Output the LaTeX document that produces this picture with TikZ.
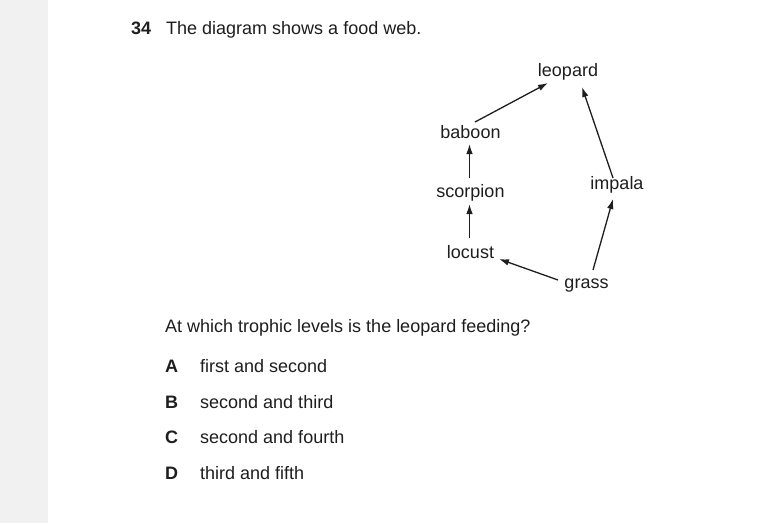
\documentclass[tikz,border=0pt]{standalone}
\usepackage{fontspec}
\setmainfont{Liberation Sans}
\usetikzlibrary{calc,arrows.meta}
\definecolor{ink}{HTML}{1E1E1E}
\definecolor{strip}{HTML}{F1F1F1}
\tikzset{
  txt/.style={anchor=base west,inner sep=0pt,text=ink,font=\fontsize{18}{20}\selectfont},
  bold/.style={txt,font=\fontsize{18}{20}\selectfont\bfseries},
  org/.style={anchor=base,inner sep=0pt,text=ink,font=\fontsize{18}{20}\selectfont},
  arr/.style={draw=ink,line width=1.3pt,-{Latex[length=10pt,width=6.5pt]}}
}
\begin{document}
\begin{tikzpicture}[x=1pt,y=-1pt]
\useasboundingbox (0,0) rectangle (763,523);
\fill[white] (0,0) rectangle (763,523);
\fill[strip] (0,0) rectangle (48,523);
% heading
\node[bold] (num) at (131,34) {34};
\node[txt] (head) at (166,34) {The diagram shows a food web.};
% food web
\node[org] (leopard) at (568,76) {leopard};
\node[org] (baboon) at (470.5,138) {baboon};
\node[org] (scorpion) at (470.5,197) {scorpion};
\node[org] (locust) at (470.5,258) {locust};
\node[org] (impala) at (617,189) {impala};
\node[org] (grass) at (586.5,288) {grass};
\draw[arr] ($(baboon.base)+(4.5,-16)$) -- ($(leopard.base)+(-20,7)$);
\draw[arr] ($(impala.base)+(-4,-11)$) -- ($(leopard.base)+(14,11)$);
\draw[arr] ($(scorpion.base)+(-1,-19)$) -- ($(baboon.base)+(-1,6)$);
\draw[arr] ($(locust.base)+(-1,-20)$) -- ($(scorpion.base)+(-1,7)$);
\draw[arr] ($(grass.base)+(-28.5,-8)$) -- ($(locust.base)+(28.5,1)$);
\draw[arr] ($(grass.base)+(6.5,-18)$) -- ($(impala.base)+(-4,10)$);
% question
\node[txt] (q) at (165,332) {At which trophic levels is the leopard feeding?};
\node[bold] (la) at (165,372) {A};
\node[txt] (ta) at (200,372) {first and second};
\node[bold] (lb) at (165,408) {B};
\node[txt] (tb) at (200,408) {second and third};
\node[bold] (lc) at (165,443) {C};
\node[txt] (tc) at (200,443) {second and fourth};
\node[bold] (ld) at (165,479) {D};
\node[txt] (td) at (200,479) {third and fifth};
\end{tikzpicture}
\end{document}
